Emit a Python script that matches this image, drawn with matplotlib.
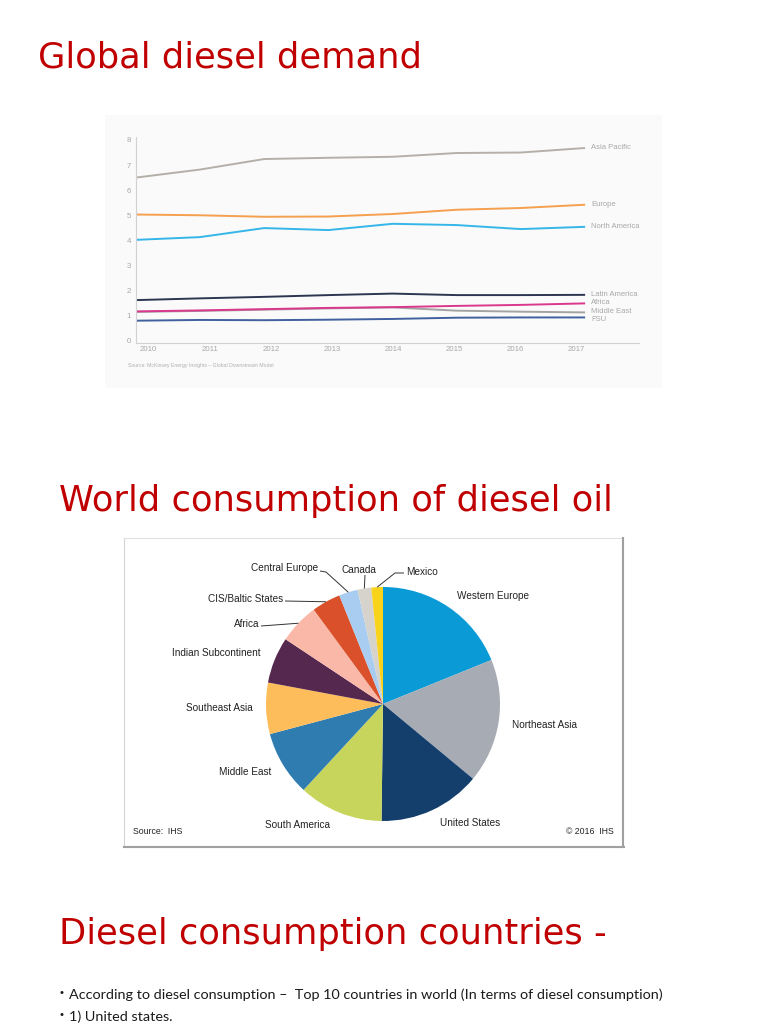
import numpy as np
import matplotlib
matplotlib.use("Agg")
import matplotlib.pyplot as plt
from matplotlib.patches import Rectangle
from matplotlib.lines import Line2D

W, H = 768, 1024

# Global diesel demand (million b/d)
years = [2010, 2011, 2012, 2013, 2014, 2015, 2016, 2017]
asia_pacific = [6.50, 6.82, 7.24, 7.29, 7.33, 7.48, 7.50, 7.68]
europe = [5.03, 5.00, 4.94, 4.95, 5.05, 5.22, 5.29, 5.42]
north_america = [4.02, 4.13, 4.49, 4.41, 4.66, 4.61, 4.45, 4.54]
latin_america = [1.62, 1.69, 1.75, 1.82, 1.88, 1.82, 1.82, 1.83]
middle_east = [1.15, 1.19, 1.24, 1.29, 1.33, 1.20, 1.16, 1.13]
africa = [1.17, 1.21, 1.26, 1.31, 1.34, 1.39, 1.43, 1.49]
fsu = [0.80, 0.83, 0.82, 0.84, 0.87, 0.92, 0.93, 0.93]

# World consumption of diesel oil, share in %
regions = ["Western Europe", "Northeast Asia", "United States", "South America",
           "Middle East", "Southeast Asia", "Indian Subcontinent", "Africa",
           "CIS/Baltic States", "Central Europe", "Canada", "Mexico"]
shares = [18.9, 17.2, 14.2, 11.7, 9.0, 7.1, 6.4, 5.6, 4.0, 2.6, 1.9, 1.6]

RED = "#c00000"


def fx(px):
    return px / W


def fy(py):
    return 1 - py / H


fig = plt.figure(figsize=(7.68, 10.24), dpi=100)

# slide titles
title_kw = dict(color=RED, fontsize=25.4, family="DejaVu Sans", va="baseline", ha="left")
fig.text(fx(38), fy(67), "Global diesel demand", **title_kw)
fig.text(fx(59), fy(511), "World consumption of diesel oil", **title_kw)
fig.text(fx(59), fy(944), "Diesel consumption countries -", **title_kw)

# ---------------- line chart ----------------
fig.patches.append(Rectangle((fx(105), fy(388)), (662 - 105) / W, (388 - 115) / H,
                             transform=fig.transFigure, facecolor="#fafafa",
                             edgecolor="none", zorder=-5))

ax = fig.add_axes([fx(135.7), fy(343.3), (639 - 135.7) / W, (343.3 - 136.7) / H])
ax.set_zorder(2)
ax.set_facecolor("none")
x = np.arange(len(years))

series = [
    ("Asia Pacific", asia_pacific, "#b5afa9"),
    ("Europe", europe, "#f5a04f"),
    ("North America", north_america, "#35b6e8"),
    ("Latin America", latin_america, "#2b3650"),
    ("Middle East", middle_east, "#a3a3a3"),
    ("Africa", africa, "#d9388c"),
    ("FSU", fsu, "#40609f"),
]
for name, vals, col in series:
    ax.plot(x, vals, color=col, lw=1.4, solid_capstyle="butt")

# end labels, nudged apart so they don't collide
ends = sorted([(s[1][-1], s[0]) for s in series], reverse=True)
pos = [e[0] for e in ends]
gap = 0.33
for _ in range(50):
    for i in range(len(pos) - 1):
        d = pos[i] - pos[i + 1]
        if d < gap:
            pos[i] += (gap - d) / 2
            pos[i + 1] -= (gap - d) / 2
for (v, name), p in zip(ends, pos):
    ax.text(x[-1] + 0.09, p, name, color="#a8a8a8", fontsize=5.5,
            family="Liberation Sans", va="center", ha="left", clip_on=False)

ax.set_xlim(0, (639 - 135.7) / 64.2)
ax.set_ylim(-0.1, 8.13)
ax.set_yticks(range(0, 9))
ax.set_xticks(np.linspace(0.2, 6.87, len(years)))
ax.set_xticklabels([str(y) for y in years])
ax.tick_params(length=0, labelsize=5.7, labelcolor="#a8a8a8")
ax.tick_params(axis="y", pad=3.5)
ax.tick_params(axis="x", pad=2)
for lab in ax.get_xticklabels() + ax.get_yticklabels():
    lab.set_family("Liberation Sans")
for s in ["top", "right"]:
    ax.spines[s].set_visible(False)
for s in ["left", "bottom"]:
    ax.spines[s].set_color("#d2d2d2")
    ax.spines[s].set_linewidth(0.8)

fig.text(fx(128), fy(365), "Source: McKinsey Energy Insights \u2013 Global Downstream Model",
         fontsize=3.7, color="#b0b0b0", family="Liberation Sans", va="center")

# ---------------- pie chart ----------------
PX0, PY1 = 124, 848   # panel left / bottom in pixels
pax = fig.add_axes([fx(PX0), fy(PY1), 500 / W, 310 / H])
pie_colors = ["#0a9bd7", "#a7acb4", "#143f6d", "#c8d55c", "#2f7cb1", "#fdbd5a",
              "#55284f", "#fab8a8", "#d9502a", "#a9cdf0", "#d5d3cb", "#f9d21a"]
cx, cy, r = 383 - PX0, PY1 - 704, 117
wedges, _ = pax.pie(shares, colors=pie_colors, startangle=90, counterclock=False,
                    center=(cx, cy), radius=r, wedgeprops=dict(linewidth=0))
pax.set_aspect("auto")
pax.set_xlim(0, 500)
pax.set_ylim(0, 310)
pax.axis("off")


def P(px, py):
    # figure pixel -> pie panel data coords
    return px - PX0, PY1 - py


lab_kw = dict(fontsize=7.2, family="Liberation Sans", color="#222222", va="center")
label_pos = {
    "Western Europe": (457, 596, "left"),
    "Northeast Asia": (512, 725, "left"),
    "United States": (440, 823, "left"),
    "South America": (265, 825, "left"),
    "Middle East": (271, 772, "right"),
    "Southeast Asia": (253, 708, "right"),
    "Indian Subcontinent": (261, 653, "right"),
    "Africa": (259, 624, "right"),
    "CIS/Baltic States": (283, 599, "right"),
    "Central Europe": (318, 568, "right"),
    "Canada": (359, 570, "center"),
    "Mexico": (406, 572, "left"),
}
for name in regions:
    px, py, ha = label_pos[name]
    pax.text(*P(px, py), name, ha=ha, **lab_kw)


def wedge_edge(name):
    w = wedges[regions.index(name)]
    a = np.deg2rad((w.theta1 + w.theta2) / 2)
    return cx + r * np.cos(a), cy + r * np.sin(a)


leaders = {
    "Africa": [P(261, 626)],
    "CIS/Baltic States": [P(285, 601)],
    "Central Europe": [P(320, 571), P(326, 572)],
    "Canada": [P(365, 575)],
    "Mexico": [P(404, 573), P(395, 573)],
}
for name, pts in leaders.items():
    ex, ey = wedge_edge(name)
    xs = [p[0] for p in pts] + [ex]
    ys = [p[1] for p in pts] + [ey]
    pax.plot(xs, ys, color="#333333", lw=0.7, solid_capstyle="butt")

pax.text(*P(133, 832), "Source:  IHS", fontsize=6.3, family="Liberation Sans",
         color="#222222", va="center", ha="left")
pax.text(*P(614, 832), "\u00a9 2016  IHS", fontsize=6.3, family="Liberation Sans",
         color="#222222", va="center", ha="right")

# panel frame: thin light left/top, darker right/bottom
fig.lines.append(Line2D([fx(124), fx(124)], [fy(538), fy(846)], transform=fig.transFigure,
                        color="#d4d4d4", lw=0.8))
fig.lines.append(Line2D([fx(124), fx(623)], [fy(538), fy(538)], transform=fig.transFigure,
                        color="#e2e2e2", lw=0.8))
fig.lines.append(Line2D([fx(623), fx(623)], [fy(538), fy(847)], transform=fig.transFigure,
                        color="#a0a0a0", lw=1.5))
fig.lines.append(Line2D([fx(124), fx(624)], [fy(846.5), fy(846.5)], transform=fig.transFigure,
                        color="#a0a0a0", lw=1.5))

# ---------------- bullets ----------------
bullet_kw = dict(fontsize=10.4, family="Lato", color="#1a1a1a", va="baseline", ha="left")
lines = ["According to diesel consumption \u2013  Top 10 countries in world (In terms of diesel consumption)",
         "1) United states."]
for i, t in enumerate(lines):
    yb = 999 + 22 * i
    fig.text(fx(59), fy(yb - 3), "\u2022", fontsize=7.5, color="#1a1a1a", va="baseline")
    fig.text(fx(69), fy(yb), t, **bullet_kw)

fig.savefig("out.png", dpi=100)
